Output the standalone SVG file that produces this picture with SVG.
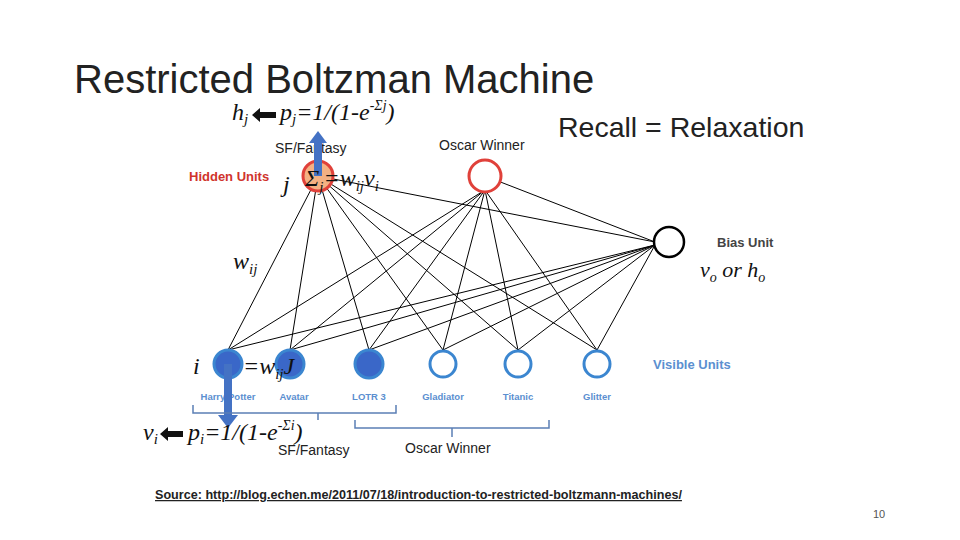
<svg xmlns="http://www.w3.org/2000/svg" width="960" height="540" viewBox="0 0 960 540">
<style>
.s{font-family:"Liberation Sans",Arial,sans-serif}
.m{font-family:"Liberation Serif","Times New Roman",serif;font-style:italic}
.e{stroke:#000;stroke-width:1}
.lbl{font-family:"Liberation Sans",Arial,sans-serif;font-weight:bold;font-size:13px;fill:#5b8fd0}
</style>
<rect width="960" height="540" fill="#fff"/>
<text x="74" y="93" class="s" font-size="40" fill="#222">Restricted Boltzman Machine</text>
<text x="558" y="137" class="s" font-size="28.5" fill="#222">Recall = Relaxation</text>
<g id="connectors" class="e">
<line x1="318" y1="176" x2="228" y2="350"/><line x1="318" y1="176" x2="290" y2="350"/><line x1="318" y1="176" x2="369" y2="350"/><line x1="318" y1="176" x2="443" y2="350"/><line x1="318" y1="176" x2="518" y2="350"/><line x1="318" y1="176" x2="597" y2="350"/>
<line x1="485" y1="190" x2="228" y2="350"/><line x1="485" y1="190" x2="290" y2="350"/><line x1="485" y1="190" x2="369" y2="350"/><line x1="485" y1="190" x2="443" y2="350"/><line x1="485" y1="190" x2="518" y2="350"/><line x1="485" y1="190" x2="597" y2="350"/>
<line x1="655" y1="245" x2="228" y2="350"/><line x1="655" y1="245" x2="290" y2="350"/><line x1="655" y1="245" x2="369" y2="350"/><line x1="655" y1="245" x2="443" y2="350"/><line x1="655" y1="245" x2="518" y2="350"/><line x1="655" y1="245" x2="597" y2="350"/>
<line x1="318" y1="176" x2="655" y2="242"/><line x1="485" y1="176" x2="655" y2="242"/>
</g>
<g id="hidden-j"><circle cx="318" cy="176" r="15" fill="#f4b183" stroke="#e0413a" stroke-width="3"/></g>
<g id="hidden-oscar"><circle cx="485" cy="176" r="16" fill="#fff" stroke="#e0413a" stroke-width="3"/></g>
<g id="bias"><circle cx="669" cy="242" r="15" fill="#fff" stroke="#000" stroke-width="2.5"/></g>
<g id="visible" stroke="#3b86d0" stroke-width="3">
<circle cx="228" cy="364" r="14" fill="#3a67c8"/><circle cx="290" cy="364" r="14" fill="#3a67c8"/><circle cx="369" cy="364" r="14" fill="#3a67c8"/>
<circle cx="443" cy="364" r="13" fill="#fff"/><circle cx="518" cy="364" r="13" fill="#fff"/><circle cx="597" cy="364" r="13" fill="#fff"/>
</g>
<g id="labels">
<text x="189" y="181" class="lbl" style="fill:#d0342c">Hidden Units</text>
<text x="717" y="247" class="lbl" style="fill:#444">Bias Unit</text>
<text x="653" y="369" class="lbl">Visible Units</text>
<g class="lbl" text-anchor="middle" style="font-size:9.5px">
<text x="228" y="400">Harry Potter</text><text x="294" y="400">Avatar</text><text x="369" y="400">LOTR 3</text><text x="443" y="400">Gladiator</text><text x="518" y="400">Titanic</text><text x="597" y="400">Glitter</text></g>
<text x="275" y="153" class="s" font-size="14" fill="#222">SF/Fantasy</text>
<text x="439" y="150" class="s" font-size="14" fill="#222">Oscar Winner</text>
<text x="278" y="455" class="s" font-size="14" fill="#222">SF/Fantasy</text>
<text x="405" y="453" class="s" font-size="14" fill="#222">Oscar Winner</text>
</g>
<g id="arrows" fill="#4472c4">
<rect x="314" y="142" width="8" height="34"/><polygon points="309,143 318,131 327,143"/>
<rect x="224" y="364" width="8" height="52"/><polygon points="218,415 228,428 238,415"/>
</g>
<g id="bold-arrows" fill="#111">
<polygon points="252,115 260,108 260,112 276,112 276,118 260,118 260,122"/>
<polygon points="160,434 168,427 168,431 183,431 183,437 168,437 168,441"/>
</g>
<g id="brackets" fill="none" stroke="#5b7fb5" stroke-width="1.5">
<path d="M193,405 V413 H318 V420 M318,413 H396 V405"/>
<path d="M355,420 V428 H452 V437 M452,428 H549 V420"/>
</g>
<g id="math" class="m" fill="#111">
<text x="232" y="120" font-size="24">h<tspan font-size="15" dy="4">j</tspan></text>
<text x="280" y="120" font-size="24">p<tspan font-size="15" dy="4">j</tspan><tspan dy="-4">=1/(1-e</tspan><tspan font-size="14" dy="-10">-Σj</tspan><tspan dy="10">)</tspan></text>
<text x="283" y="192" font-size="24">j</text>
<text x="305" y="186" font-size="24">Σ<tspan font-size="15" dy="6">j</tspan><tspan dy="-6">=w</tspan><tspan font-size="15" dy="5">ij</tspan><tspan dy="-5">v</tspan><tspan font-size="15" dy="5">i</tspan></text>
<text x="233" y="269" font-size="24">w<tspan font-size="15" dy="5">ij</tspan></text>
<text x="700" y="277" font-size="22">v<tspan font-size="14" dy="5">o</tspan><tspan dy="-5"> or h</tspan><tspan font-size="14" dy="5">o</tspan></text>
<text x="193" y="374" font-size="24">i</text>
<text x="243" y="374" font-size="24">=w<tspan font-size="15" dy="5">ij</tspan><tspan dy="-5">J</tspan></text>
<text x="143" y="440" font-size="24">v<tspan font-size="15" dy="4">i</tspan></text>
<text x="188" y="440" font-size="24">p<tspan font-size="15" dy="4">i</tspan><tspan dy="-4">=1/(1-e</tspan><tspan font-size="14" dy="-10">-Σi</tspan><tspan dy="10">)</tspan></text>
</g>
<text x="155" y="499" class="s" font-size="12.6" font-weight="bold" fill="#222" text-decoration="underline">Source:  http://blog.echen.me/2011/07/18/introduction-to-restricted-boltzmann-machines/</text>
<text x="873" y="518" class="s" font-size="11" fill="#555">10</text>
</svg>
